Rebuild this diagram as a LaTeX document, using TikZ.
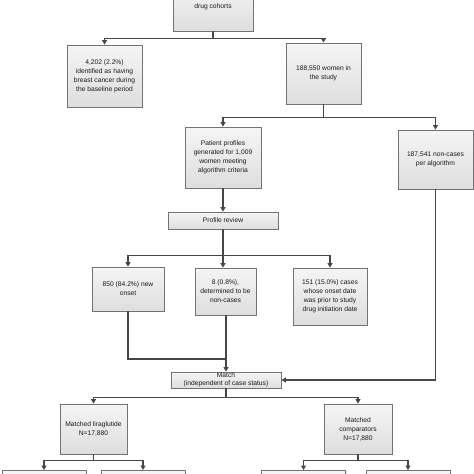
\documentclass[tikz,border=0pt]{standalone}
\usepackage{fontspec}
\setmainfont{Liberation Sans}
\usetikzlibrary{
    arrows.meta,
    shadows
}
\tikzset{
    box/.style={draw=black!55, line width=0.8pt, top color=black!4, middle color=white,
        bottom color=black!13,
        drop shadow={shadow xshift=1pt, shadow yshift=-1pt, opacity=0.2},
        align=center, inner sep=0pt, text=black!90,
        font=\fontsize{6.7}{9}\selectfont},
    link/.style={line width=1.1pt, black!72},
    flowarrow/.style={link, -{Triangle[length=4.5pt, width=5pt]}}
}

\begin{document}
\begin{tikzpicture}[x=1pt, y=-1pt]
    \clip (0,0) rectangle (474,474);
    \fill[white] (0,0) rectangle (474,474);
    % boxes
    \node[box, minimum width=80, minimum height=48] (cohorts) at (213,7) {drug cohorts};
    \node[box, minimum width=75, minimum height=62] (baseline) at (104.5,76)
        {4,202 (2.2\%)\\identified as having\\breast cancer during\\the baseline period};
    \node[box, minimum width=75, minimum height=61] (women) at (323.5,73.5)
        {188,550 women in\\the study};
    \node[box, minimum width=76, minimum height=61] (profiles) at (223,157.5)
        {Patient profiles\\generated for 1,009\\women meeting\\algorithm criteria};
    \node[box, minimum width=75, minimum height=59] (noncases) at (435.5,159.5)
        {187,541 non-cases\\per algorithm};
    \node[box, minimum width=110, minimum height=17] (review) at (223,220.5) {Profile review};
    \node[box, minimum width=72, minimum height=44] (onset) at (128,289)
        {850 (84.2\%) new\\onset};
    \node[box, minimum width=61, minimum height=47] (excluded) at (225.5,291.5)
        {8 (0.8\%),\\determined to be\\non-cases};
    \node[box, minimum width=74, minimum height=57] (prior) at (330,296.5)
        {151 (15.0\%) cases\\whose onset date\\was prior to study\\drug initiation date};
    \node[box, minimum width=110, minimum height=16,
        font=\fontsize{6.7}{8}\selectfont] (match) at (226,380)
        {Match\\(independent of case status)};
    \node[box, minimum width=67, minimum height=50] (lira) at (93.5,429)
        {Matched liraglutide\\N=17,880};
    \node[box, minimum width=68, minimum height=50] (comp) at (358,429)
        {Matched\\comparators\\N=17,880};
    \foreach \x/\name in {44/liraA, 143/liraB, 303.5/compA, 408/compB}{
        \node[box, minimum width=84, minimum height=40, anchor=north] (\name) at (\x,470) {};
    }
    % connectors
    \coordinate (join) at (226,359);
    \draw[flowarrow] (cohorts.south) -- ++(0,7) -| (baseline.north);
    \draw[flowarrow] (cohorts.south) -- ++(0,7) -| (women.north);
    \draw[flowarrow] (women.south) -- ++(0,13) -| (profiles.north);
    \draw[flowarrow] (women.south) -- ++(0,13) -| (noncases.north);
    \draw[flowarrow] (profiles.south) -- (review.north);
    \draw[flowarrow] (review.south) -- ++(0,26) -| (onset.north);
    \draw[flowarrow] (review.south) -- ++(0,26) -| (prior.north);
    \draw[flowarrow] (review.south) -- (review.south |- excluded.north);
    \draw[link] (onset.south) |- (join);
    \draw[flowarrow] (excluded.south -| join) -- (join) -- (match.north);
    \draw[flowarrow] (noncases.south) |- (match.east);
    \draw[flowarrow] (match.south) -- ++(0,9) -| (lira.north);
    \draw[flowarrow] (match.south) -- ++(0,9) -| (comp.north);
    \draw[flowarrow] (lira.south) -- ++(0,6) -| (liraA.north);
    \draw[flowarrow] (lira.south) -- ++(0,6) -| (liraB.north);
    \draw[flowarrow] (comp.south) -- ++(0,6) -| (compA.north);
    \draw[flowarrow] (comp.south) -- ++(0,6) -| (compB.north);
\end{tikzpicture}
\end{document}
